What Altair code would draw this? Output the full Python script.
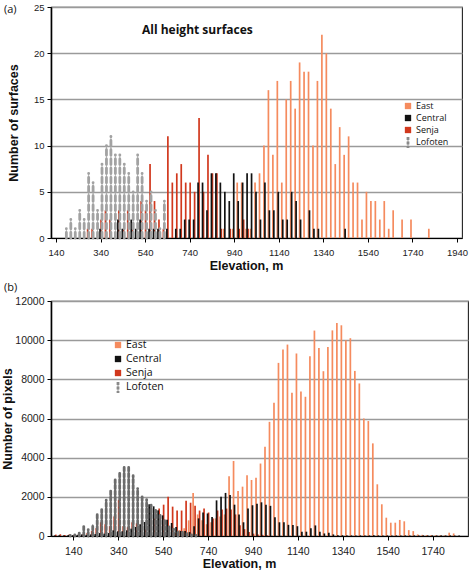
import altair as alt
import pandas as pd

FONT = "Open Sans"

# ---------------- Panel (a): number of surfaces per 20 m elevation bin ----------------
A_EAST = [(900, 1), (940, 1), (960, 6), (980, 6), (1000, 1), (1020, 1), (1040, 6), (1060, 7),
          (1080, 10), (1100, 16), (1120, 9), (1140, 17), (1160, 6), (1180, 15), (1200, 17),
          (1220, 14), (1240, 19), (1260, 18), (1280, 18), (1300, 10), (1320, 17), (1340, 22),
          (1360, 20), (1380, 14), (1400, 8), (1420, 12), (1440, 9), (1460, 11), (1480, 6),
          (1500, 6), (1520, 2), (1540, 5), (1560, 4), (1580, 4), (1600, 2), (1620, 4),
          (1640, 1), (1660, 3), (1700, 2), (1740, 2), (1820, 1)]
A_CENTRAL = [(340, 1), (420, 2), (440, 1), (480, 2), (500, 1), (520, 2), (560, 1), (580, 1),
             (600, 1), (640, 1), (680, 1), (700, 1), (720, 2), (740, 2), (760, 2), (780, 6),
             (800, 6), (820, 3), (840, 7), (860, 7), (880, 6), (900, 5), (920, 4), (940, 7),
             (960, 4), (980, 6), (1000, 7), (1020, 7), (1040, 5), (1060, 2), (1080, 6),
             (1100, 3), (1120, 3), (1140, 5), (1160, 2), (1180, 2), (1200, 5), (1220, 4),
             (1240, 2), (1280, 3), (1300, 1), (1320, 1), (1440, 1)]
A_SENJA = [(280, 1), (300, 1), (340, 2), (360, 3), (380, 2), (420, 3), (440, 1), (460, 3),
           (480, 1), (520, 4), (540, 3), (560, 8), (580, 4), (600, 2), (620, 1), (640, 11),
           (660, 6), (680, 7), (700, 8), (720, 6), (740, 6), (760, 5), (780, 13), (800, 5),
           (820, 9), (840, 7), (860, 7), (880, 1), (920, 1), (960, 1), (980, 2), (1000, 1)]
A_LOFOTEN = [(180, 1), (200, 2), (220, 1), (240, 3), (260, 2), (280, 7), (300, 6), (320, 3),
             (340, 8), (360, 10), (380, 11), (400, 9), (420, 9), (440, 8), (460, 7), (480, 5),
             (500, 9), (520, 7), (540, 4), (560, 5), (580, 3), (600, 1), (620, 4)]

# ---------------- Panel (b): number of pixels per 20 m elevation bin ----------------
B_EAST = [(600, 150), (620, 300), (640, 400), (660, 800), (680, 2200), (700, 1100), (720, 800),
          (740, 600), (760, 700), (780, 900), (800, 1000), (820, 1100), (840, 3050), (860, 3830),
          (880, 2300), (900, 2520), (920, 3100), (940, 2860), (960, 2980), (980, 3700),
          (1000, 4560), (1020, 5830), (1040, 6800), (1060, 8840), (1080, 9520), (1100, 9775),
          (1120, 7310), (1140, 9320), (1160, 7380), (1180, 7110), (1200, 9180), (1220, 10490),
          (1240, 9600), (1260, 8415), (1280, 9650), (1300, 10500), (1320, 10880), (1340, 10760),
          (1360, 10000), (1380, 10100), (1400, 8430), (1420, 7790), (1440, 6000), (1460, 5870),
          (1480, 4730), (1500, 2640), (1520, 1620), (1540, 935), (1560, 680), (1580, 680),
          (1600, 820), (1620, 750), (1640, 300), (1660, 250), (1680, 80), (1700, 60),
          (1720, 50), (1740, 50), (1760, 40), (1780, 40), (1800, 30), (1820, 170), (1840, 130)]
B_CENTRAL = [(60, 30), (80, 40), (100, 30), (120, 50), (140, 40), (160, 60), (180, 80), (200, 60),
             (220, 80), (240, 100), (260, 150), (280, 120), (300, 150), (320, 290), (340, 240),
             (360, 240), (380, 290), (400, 375), (420, 460), (440, 600), (460, 715), (480, 1620),
             (500, 1515), (520, 1310), (540, 1055), (560, 834), (580, 664), (600, 460),
             (620, 255), (640, 255), (660, 200), (680, 500), (700, 900), (720, 1200),
             (740, 1150), (760, 970), (780, 1820), (800, 2000), (820, 2200), (840, 2100),
             (860, 1600), (880, 1100), (900, 700), (920, 1400), (940, 1570), (960, 1650),
             (980, 1720), (1000, 1600), (1020, 1540), (1040, 960), (1060, 700), (1080, 700),
             (1100, 570), (1120, 560), (1140, 500), (1160, 220), (1180, 220), (1200, 400),
             (1220, 540), (1240, 220), (1260, 130), (1280, 160), (1300, 80), (1320, 40),
             (1340, 40), (1360, 30), (1380, 30), (1400, 25), (1420, 30), (1440, 25), (1460, 30),
             (1480, 40), (1500, 30), (1520, 25), (1540, 30), (1560, 25), (1580, 30), (1600, 25),
             (1620, 30), (1640, 25), (1660, 30), (1680, 25), (1700, 30), (1720, 25), (1740, 30),
             (1760, 25), (1780, 30), (1800, 25), (1820, 30), (1840, 25), (1860, 30)]
B_SENJA = [(60, 70), (80, 90), (100, 50), (120, 80), (140, 40), (160, 60), (180, 80), (200, 150),
           (220, 250), (240, 400), (260, 700), (280, 600), (300, 500), (320, 1000), (340, 1850),
           (360, 500), (380, 450), (400, 700), (420, 650), (440, 450), (460, 350), (480, 500),
           (500, 900), (520, 1400), (540, 1600), (560, 2000), (580, 1500), (600, 1300),
           (620, 1300), (640, 1800), (660, 1700), (680, 1550), (700, 1300), (720, 1400),
           (740, 1200), (760, 900), (780, 1300), (800, 1350), (820, 1400), (840, 1350),
           (860, 1100), (880, 550), (900, 350), (920, 200), (940, 120), (960, 80), (980, 60),
           (1000, 40)]
B_LOFOTEN = [(120, 30), (140, 50), (160, 150), (180, 480), (200, 330), (220, 600), (240, 1100),
             (260, 1350), (280, 1830), (300, 2320), (320, 2870), (340, 3270), (360, 3520),
             (380, 3540), (400, 3080), (420, 2420), (440, 2000), (460, 1860), (480, 1570),
             (500, 1310), (520, 1050), (540, 800), (560, 460), (580, 350), (600, 290),
             (620, 200), (640, 120), (660, 60), (680, 30)]

SERIES = ["East", "Central", "Senja", "Lofoten"]
COLORS = {"East": "#f58b5e", "Central": "#111111", "Senja": "#d1381d"}
OFFSET_M = {"East": -6.5, "Central": -2.2, "Senja": 2.2, "Lofoten": 6.5}

A_XTICKS = [140, 340, 540, 740, 940, 1140, 1340, 1540, 1740, 1940]
B_XTICKS = [140, 340, 540, 740, 940, 1140, 1340, 1540, 1740]
A_YTICKS = [0, 5, 10, 15, 20, 25]
B_YTICKS = [0, 2000, 4000, 6000, 8000, 10000, 12000]


def frame(pairs, name):
    df = pd.DataFrame(pairs, columns=["elev", "value"])
    df["series"] = name
    return df


def one(txt):
    return pd.DataFrame({"t": [txt]})


def panel(data, xdom, xticks, ydom, yticks, w, h, ytitle, ytitle_pad, xtitle_x,
          lab_size, xlab_pad, xtitle_pad, lof_color, lof_dash, letter, letter_xy, note,
          legend):
    xscale = alt.Scale(domain=xdom, nice=False, zero=False)
    yscale = alt.Scale(domain=ydom, nice=False)
    xaxis = alt.Axis(values=xticks, format="d", title="Elevation, m", grid=False, tickSize=4,
                     tickColor="black", domainColor="black", domainWidth=1.2,
                     labelFontSize=lab_size, labelPadding=xlab_pad, labelColor="#222",
                     titleFontSize=12.5, titleFontWeight="bold", titlePadding=xtitle_pad,
                     titleX=xtitle_x, titleColor="#111", labelFlush=False)
    yaxis = alt.Axis(values=yticks, format="d", title=ytitle, grid=True, gridColor="#9a9a9a",
                     gridWidth=1.3, tickSize=4, tickColor="black", domainColor="black",
                     domainWidth=1.6, labelFontSize=lab_size, labelPadding=3,
                     labelColor="#222", titleFontSize=12.5, titleFontWeight="bold",
                     titlePadding=ytitle_pad, titleColor="#111", minExtent=28,
                     maxExtent=28)
    X = alt.X("xpos:Q", scale=xscale, axis=xaxis)
    Y = alt.Y("value:Q", scale=yscale, axis=yaxis)
    layers = []
    for name in ["East", "Senja", "Central"]:
        df = frame(data[name], name)
        layers.append(
            alt.Chart(df)
            .transform_calculate(xpos=f"datum.elev + {OFFSET_M[name]}")
            .mark_bar(width=1.7, color=COLORS[name])
            .encode(x=X, y=Y)
        )
    dfl = frame(data["Lofoten"], "Lofoten")
    lof = alt.Chart(dfl).transform_calculate(xpos=f"datum.elev + {OFFSET_M['Lofoten']}",
                                             base="0")
    Y0 = alt.Y("base:Q", scale=yscale, axis=yaxis)
    layers.append(lof.mark_rule(color=lof_color, strokeWidth=0.8)
                  .encode(x=X, y=Y0, y2=alt.Y2("value:Q")))
    layers.append(lof.mark_rule(color=lof_color, strokeWidth=2.8, strokeDash=lof_dash,
                                strokeCap="round")
                  .encode(x=X, y=Y0, y2=alt.Y2("value:Q")))
    # panel letter
    layers.append(alt.Chart(one(letter)).mark_text(align="left", baseline="middle", fontSize=11,
                                                   font=FONT, color="#111")
                  .encode(text="t:N", x=alt.value(letter_xy[0]), y=alt.value(letter_xy[1])))
    if note:
        layers.append(alt.Chart(one(note[0])).mark_text(align="left", baseline="middle",
                                                        fontSize=12, fontWeight="bold",
                                                        font=FONT, color="#111")
                      .encode(text="t:N", x=alt.value(note[1]), y=alt.value(note[2])))
    # legend
    lx, ly, dy, fs = legend
    for i, name in enumerate(SERIES):
        yy = ly + i * dy
        if name == "Lofoten":
            layers.append(alt.Chart(one(name)).mark_rule(color="#8a8a8a", strokeWidth=0.8)
                          .encode(x=alt.value(lx), y=alt.value(yy - 5), y2=alt.value(yy + 6)))
            layers.append(alt.Chart(one(name)).mark_rule(color="#8a8a8a", strokeWidth=2.8,
                                                         strokeDash=[3, 1.5])
                          .encode(x=alt.value(lx), y=alt.value(yy - 5), y2=alt.value(yy + 6)))
        else:
            layers.append(alt.Chart(one(name)).mark_square(size=40, opacity=1, color=COLORS[name])
                          .encode(x=alt.value(lx), y=alt.value(yy)))
        layers.append(alt.Chart(one(name)).mark_text(align="left", baseline="middle",
                                                     fontSize=fs, font=FONT, color="#111")
                      .encode(text="t:N", x=alt.value(lx + 8), y=alt.value(yy)))
    view = alt.ViewBackground(stroke="#222", strokeWidth=1.1)
    return alt.layer(*layers).properties(width=w, height=h, view=view)


panel_a = panel(
    {"East": A_EAST, "Central": A_CENTRAL, "Senja": A_SENJA, "Lofoten": A_LOFOTEN},
    [140, 1940], A_XTICKS, [0, 25], A_YTICKS, 411, 231, "Number of surfaces", 3, 195,
    9.5, 5, 3, "#a2a2a2", [5.5, 3.7], "(a)", (-47, 3),
    ("All height surfaces", 91, 23), (357, 99, 12, 9))

panel_b = panel(
    {"East": B_EAST, "Central": B_CENTRAL, "Senja": B_SENJA, "Lofoten": B_LOFOTEN},
    [63, 1875], B_XTICKS, [0, 12000], B_YTICKS, 417, 235, "Number of pixels", 9, 188,
    10.5, 6, 1, "#6c6c6c", [3.6, 2.3], "(b)", (-47, -13),
    None, (67, 44, 14, 10.5))

chart = (
    alt.vconcat(panel_a, panel_b, spacing=8)
    .properties(padding={"top": 1, "left": 0, "right": 0, "bottom": 0})
    .configure_axis(labelFont=FONT, titleFont=FONT)
    .configure(background="white")
)

chart.save("out.html", embed_options={"renderer": "svg", "actions": False})
